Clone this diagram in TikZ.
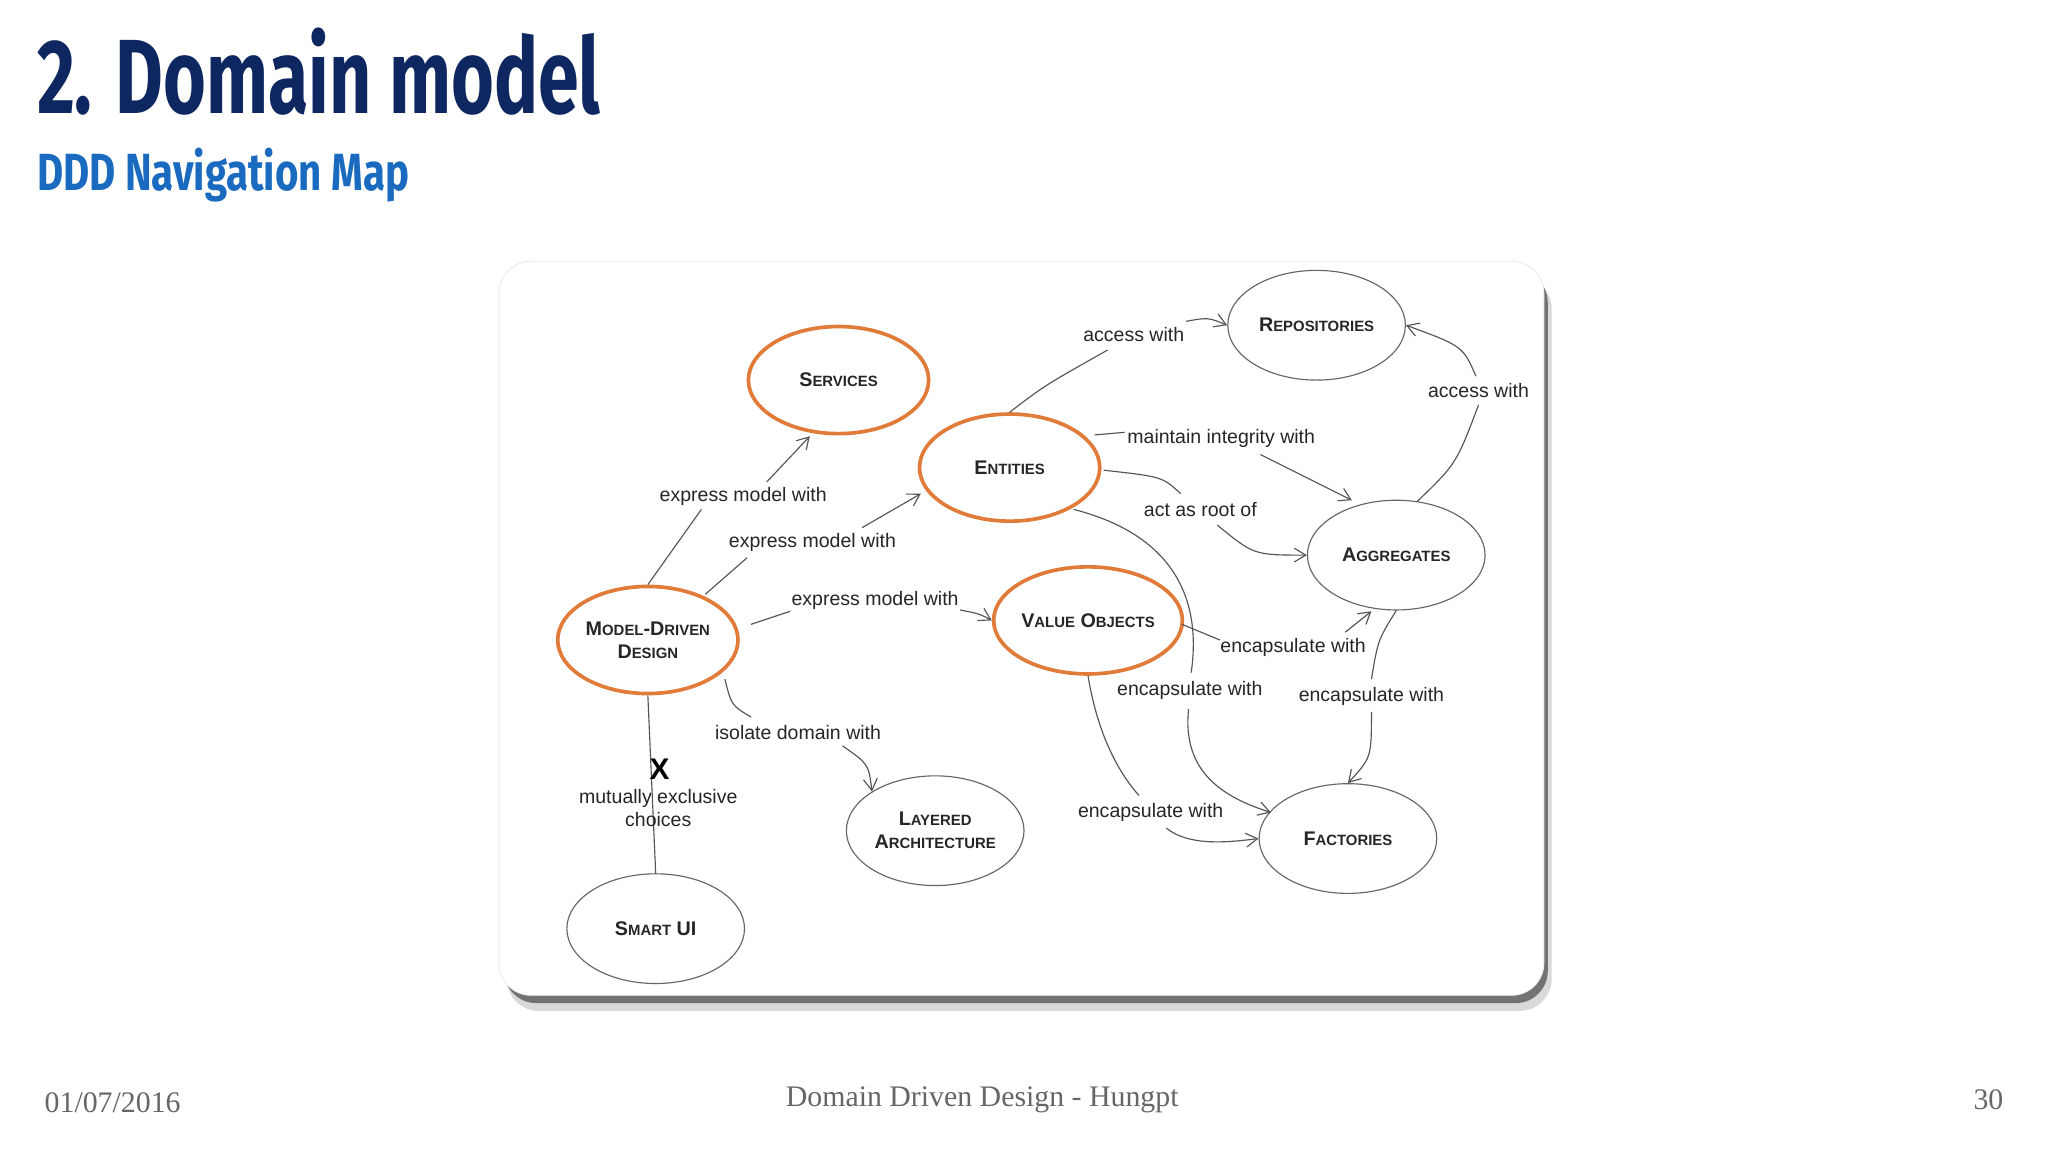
\documentclass[tikz,border=0pt]{standalone}
\usepackage{fontspec}
\setmainfont{Liberation Sans}
\newfontfamily\titlefont{Fira Sans}
\newfontfamily\footfont{Liberation Serif}
\usetikzlibrary{shapes.geometric,arrows.meta}
\definecolor{navy}{HTML}{0E2760}
\definecolor{subblue}{HTML}{1A6BC0}
\definecolor{orng}{HTML}{E07B39}
\definecolor{edge}{HTML}{555555}
\newcommand{\smc}[2]{#1{\fontsize{6.5pt}{8pt}\selectfont #2}}
\tikzset{
  x=0.02cm,y=-0.02cm,
  conc/.style={ellipse,draw=black!60,line width=0.5pt,inner sep=0pt,minimum width=136*0.02cm,minimum height=84*0.02cm,font=\fontsize{8.6pt}{10pt}\selectfont\bfseries,align=center,text=black!85},
  key/.style={conc,draw=orng,line width=1.6pt,minimum width=138*0.02cm,minimum height=82*0.02cm},
  lbl/.style={font=\fontsize{8.5pt}{10pt}\selectfont,text=black!85,inner sep=1pt,align=center},
  ln/.style={draw=edge,line width=0.5pt},
  ar/.style={ln,-{Straight Barb[length=5pt,width=6pt]}},
  foot/.style={text=black!60,font=\footfont\fontsize{13pt}{15pt}\selectfont},
}
\begin{document}
\begin{tikzpicture}
\useasboundingbox[fill=white] (0,0) rectangle (1568,882);
% title
\node[anchor=west,text=navy,inner sep=0] at (28,55) {\scalebox{0.64}[0.92]{\titlefont\bfseries\fontsize{50pt}{56pt}\selectfont 2. Domain model}};
\node[anchor=west,text=subblue,inner sep=0] at (28,134) {\scalebox{0.73}[0.95]{\titlefont\fontseries{sb}\selectfont\fontsize{24pt}{28pt}\selectfont DDD Navigation Map}};
% card
\fill[black!15,rounded corners=14] (388,212) rectangle (1188,774);
\fill[black!55,rounded corners=14] (386,207) rectangle (1185,768);
\filldraw[white,draw=black!8,rounded corners=14] (382,200) rectangle (1182,762);
% nodes
\node[key] (serv) at (642,291) {\smc{S}{ERVICES}};
\node[key] (ent) at (773,358) {\smc{E}{NTITIES}};
\node[key] (mdd) at (496,490) {\smc{M}{ODEL}-\smc{D}{RIVEN}\\\smc{D}{ESIGN}};
\node[key] (vo) at (833,475) {\smc{V}{ALUE} \smc{O}{BJECTS}};
\node[conc] (rep) at (1008,249) {\smc{R}{EPOSITORIES}};
\node[conc] (agg) at (1069,425) {\smc{A}{GGREGATES}};
\node[conc] (lay) at (716,636) {\smc{L}{AYERED}\\\smc{A}{RCHITECTURE}};
\node[conc] (fac) at (1032,642) {\smc{F}{ACTORIES}};
\node[conc] (sui) at (502,711) {\smc{S}{MART} UI};
% labels
\node[lbl] (l1) at (569,380) {express model with};
\node[lbl] (l2) at (622,415) {express model with};
\node[lbl] (l3) at (670,460) {express model with};
\node[lbl] (l4) at (611,561) {isolate domain with};
\node[lbl] (l6) at (868,256) {access with};
\node[lbl] (l7) at (1132,299) {access with};
\node[lbl] (l8) at (935,336) {maintain integrity with};
\node[lbl] (l9) at (919,390) {act as root of};
\node[lbl] (l10) at (990,496) {encapsulate with};
\node[lbl] (l11) at (1050,533) {encapsulate with};
\node[lbl] (l12) at (911,529) {encapsulate with};
\node[lbl] (l13) at (881,622) {encapsulate with};
% connectors
\draw[ln] (mdd.north) -- (537,390);
\draw[ar] (587,369) -- (620,334);
\draw[ln] (540,455) -- (572,427);
\draw[ar] (660,404) -- (705,378);
\draw[ln] (575,478) -- (605,468);
\draw[ar] (735,467) .. controls (750,470) .. (vo.west);
\draw[ln] (555,520) .. controls (560,540) .. (575,549);
\draw[ar] (645,571) .. controls (665,585) .. (lay.north west);
\draw[ln] (mdd.south) -- (sui.north);
\node[font=\fontsize{13pt}{14pt}\selectfont\bfseries] (x) at (505,589) {X};
\node[lbl] (l5) at (504,619) {mutually exclusive\\choices};
\draw[ln] (ent.north) .. controls (800,295) .. (848,268);
\draw[ar] (908,246) .. controls (925,243) .. (rep.west);
\draw[ln] (1085,384) .. controls (1115,355) .. (1132,310);
\draw[ar] (1130,288) .. controls (1120,265) .. (rep.east);
\draw[ln] (838,333) -- (861,331);
\draw[ar] (965,348) -- (1035,383);
\draw[ln] (845,360) .. controls (890,365) .. (904,378);
\draw[ar] (932,402) .. controls (960,425) .. (agg.west);
\draw[ln] (905,478) -- (934,490);
\draw[ar] (1030,484) -- (1050,468);
\draw[ln] (agg.south) .. controls (1055,490) .. (1050,520);
\draw[ar] (1050,545) .. controls (1050,580) .. (fac.north);
\draw[ln] (822,390) .. controls (900,410) and (920,460) .. (912,515);
\draw[ar] (910,543) .. controls (905,590) and (935,610) .. (973,622);
\draw[ln] (vo.south) .. controls (840,560) and (855,590) .. (872,609);
\draw[ar] (893,634) .. controls (910,648) and (940,645) .. (fac.west);
% footer
\node[anchor=west,foot] at (28,844) {01/07/2016};
\node[foot] at (752,842) {Domain Driven Design - Hungpt};
\node[anchor=east,foot] at (1540,842) {30};
\end{tikzpicture}
\end{document}
